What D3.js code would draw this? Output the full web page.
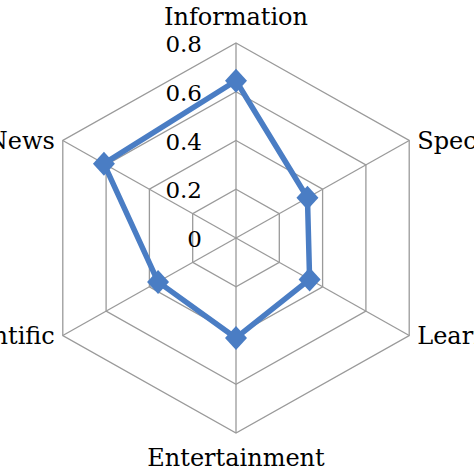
<!DOCTYPE html>
<html>
<head>
<meta charset="utf-8">
<script src="https://cdn.jsdelivr.net/npm/d3@7"></script>
<style>
  html, body { margin: 0; padding: 0; background: #fff; overflow: hidden; }
  text { font-family: "DejaVu Serif", serif; fill: #000; }
</style>
</head>
<body>
<svg id="chart"></svg>
<script>
const width = 474;
const height = 474;

// Chart data
const categories = ["Information", "Special", "Learning", "Entertainment", "Scientific", "News"];
const values = [0.645, 0.33, 0.34, 0.41, 0.36, 0.61];
const ticks = [0, 0.2, 0.4, 0.6, 0.8];

const svg = d3.select("#chart")
  .attr("width", width)
  .attr("height", height);

const cx = 236, cy = 238;
const rx = 200, ry = 195;

// radial scale: value -> fraction of outer radius
const r = d3.scaleLinear().domain([0, 0.8]).range([0, 1]);
const angle = d3.scalePoint().domain(categories).range([0, 2 * Math.PI * (5 / 6)]);

function pt(cat, v) {
  const a = angle(cat);
  return [cx + rx * r(v) * Math.sin(a), cy - ry * r(v) * Math.cos(a)];
}

const grid = svg.append("g");

// rings
ticks.filter(t => t > 0).forEach(t => {
  grid.append("polygon")
    .attr("points", categories.map(c => pt(c, t).join(",")).join(" "))
    .attr("fill", "none")
    .attr("stroke", "#9a9a9a")
    .attr("stroke-width", 1.3);
});

// spokes
categories.forEach(c => {
  const p = pt(c, 0.8);
  grid.append("line")
    .attr("x1", cx).attr("y1", cy)
    .attr("x2", p[0]).attr("y2", p[1])
    .attr("stroke", "#9a9a9a")
    .attr("stroke-width", 1.3);
});

// tick labels
svg.append("g").selectAll("text")
  .data(ticks)
  .enter().append("text")
  .attr("x", cx - 34)
  .attr("y", d => cy - ry * r(d) + 9)
  .attr("text-anchor", "end")
  .attr("font-size", 23)
  .text(d => d);

// series line
const line = d3.line().curve(d3.curveLinearClosed);
const points = categories.map((c, i) => pt(c, values[i]));

svg.append("path")
  .attr("d", line(points))
  .attr("fill", "none")
  .attr("stroke", "#4a7dc4")
  .attr("stroke-width", 5.5)
  .attr("stroke-linejoin", "round");

// diamond markers
svg.append("g").selectAll("path")
  .data(points)
  .enter().append("path")
  .attr("d", "M0,-12L11,0L0,12L-11,0Z")
  .attr("transform", d => `translate(${d[0]},${d[1]})`)
  .attr("fill", "#4a7dc4");

// category labels
const labelPos = [
  { dx: 0, dy: -18, anchor: "middle" },
  { dx: 8, dy: 8, anchor: "start" },
  { dx: 8, dy: 8, anchor: "start" },
  { dx: 0, dy: 33, anchor: "middle" },
  { dx: -8, dy: 8, anchor: "end" },
  { dx: -8, dy: 8, anchor: "end" }
];

svg.append("g").selectAll("text")
  .data(categories)
  .enter().append("text")
  .attr("x", (d, i) => pt(d, 0.8)[0] + labelPos[i].dx)
  .attr("y", (d, i) => pt(d, 0.8)[1] + labelPos[i].dy)
  .attr("text-anchor", (d, i) => labelPos[i].anchor)
  .attr("font-size", 24)
  .text(d => d);
</script>
</body>
</html>
